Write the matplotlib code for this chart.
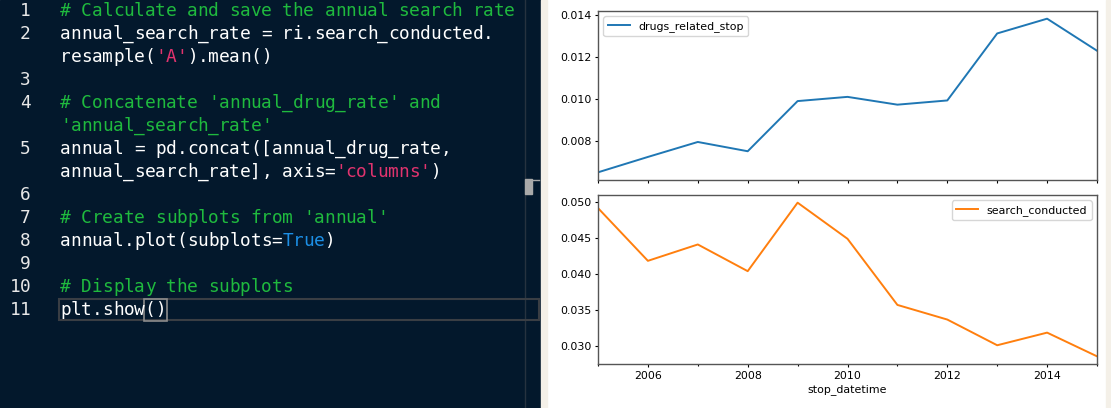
import matplotlib
matplotlib.use("Agg")
import matplotlib.pyplot as plt
import matplotlib.ticker as mticker
from matplotlib.patches import Rectangle

# chart values
years = [2005, 2006, 2007, 2008, 2009, 2010, 2011, 2012, 2013, 2014, 2015]
drugs_related_stop = [0.00652, 0.00725, 0.00796, 0.00752, 0.00990, 0.01010,
                      0.00973, 0.00993, 0.01311, 0.01381, 0.01229]
search_conducted = [0.04916, 0.04181, 0.04409, 0.04037, 0.04991, 0.04488,
                    0.03567, 0.03363, 0.03005, 0.03181, 0.02851]
top_label = "drugs_related_stop"
bottom_label = "search_conducted"
x_label = "stop_datetime"

# code shown in the editor panel: (line number, [(text, kind), ...])
code_rows = [
    ("1", [("# Calculate and save the annual search rate", "comment")]),
    ("2", [("annual_search_rate = ri.search_conducted.", "code")]),
    ("", [("resample(", "code"), ("'A'", "string"), (").mean()", "code")]),
    ("3", []),
    ("4", [("# Concatenate 'annual_drug_rate' and", "comment")]),
    ("", [("'annual_search_rate'", "comment")]),
    ("5", [("annual = pd.concat([annual_drug_rate,", "code")]),
    ("", [("annual_search_rate], axis=", "code"), ("'columns'", "string"), (")", "code")]),
    ("6", []),
    ("7", [("# Create subplots from 'annual'", "comment")]),
    ("8", [("annual.plot(subplots=", "code"), ("True", "keyword"), (")", "code")]),
    ("9", []),
    ("10", [("# Display the subplots", "comment")]),
    ("11", [("plt.show()", "code")]),
]
colors = {"comment": "#1fba3e", "code": "#ffffff", "string": "#e0336e", "keyword": "#1c8fe6"}

W, H = 1111, 408
fig = plt.figure(figsize=(W / 100, H / 100), dpi=100)

# background layer in pixel coordinates
bg = fig.add_axes([0, 0, 1, 1])
bg.set_xlim(0, W)
bg.set_ylim(H, 0)
bg.axis("off")
bg.add_patch(Rectangle((0, 0), 540, H, color="#03182c", zorder=0))
bg.add_patch(Rectangle((541, 0), 6, H, color="#f4f0e8", zorder=0))
bg.add_patch(Rectangle((1106, 0), 5, H, color="#f4f0e8", zorder=0))
bg.plot([525, 525], [0, H], color="#26323f", lw=1, zorder=1)
bg.add_patch(Rectangle((525, 179), 7, 15, color="#a9a9a9", zorder=2))
bg.plot([532, 539], [180, 180], color="#a9a9a9", lw=1, zorder=2)

# current line highlight and bracket match box
bg.add_patch(Rectangle((59, 299), 480, 21, fill=False, ec="#3a3e44", lw=1.5, zorder=1))
bg.add_patch(Rectangle((144, 299), 22.5, 21.5, fill=False, ec="#8c8c8c", lw=1.2, zorder=3))

# one glyph per cell so the monospace grid stays exact
char_w = 10.58
code_font = dict(family="DejaVu Sans Mono", fontsize=12.8, va="baseline", ha="center")
for i, (num, parts) in enumerate(code_rows):
    base = 15.7 + 23 * i
    for k, ch in enumerate(num):
        bg.text(30.5 - (len(num) - k - 0.5) * char_w, base, ch, color="#e8e8e8", **code_font)
    col = 0
    for txt, kind in parts:
        for ch in txt:
            if ch != " ":
                bg.text(60 + (col + 0.5) * char_w, base, ch, color=colors[kind], **code_font)
            col += 1

fs = 7.9
plt.rcParams["font.size"] = fs

left = 598 / W
width = 499 / W
ax1 = fig.add_axes([left, (H - 180) / H, width, 169 / H])
ax2 = fig.add_axes([left, (H - 364) / H, width, 169 / H], sharex=ax1)

ax1.plot(years, drugs_related_stop, color="#1f77b4", lw=1.4, label=top_label)
ax2.plot(years, search_conducted, color="#ff7f0e", lw=1.4, label=bottom_label)

ax1.set_xlim(years[0], years[-1])
ax1.yaxis.set_major_locator(mticker.MultipleLocator(0.002))
ax2.yaxis.set_major_locator(mticker.MultipleLocator(0.005))
ax1.yaxis.set_major_formatter(mticker.FormatStrFormatter("%.3f"))
ax2.yaxis.set_major_formatter(mticker.FormatStrFormatter("%.3f"))

ax2.xaxis.set_major_locator(mticker.MultipleLocator(2))
ax2.xaxis.set_minor_locator(mticker.MultipleLocator(1))
ax2.xaxis.set_major_formatter(mticker.FormatStrFormatter("%d"))
ax1.tick_params(axis="x", labelbottom=False)

for ax in (ax1, ax2):
    ax.tick_params(which="major", length=2.4, width=0.8, labelsize=fs, pad=2.5)
    ax.tick_params(which="minor", length=1.2, width=0.8)
    for s in ax.spines.values():
        s.set_color("#555555")
        s.set_linewidth(1.0)
ax1.tick_params(axis="x", which="minor", length=2.4)

ax1.legend(loc="upper left", fontsize=fs)
ax2.legend(loc="upper right", fontsize=fs)
ax2.set_xlabel(x_label, fontsize=fs, labelpad=2.5)

fig.savefig("out.png", dpi=100)
